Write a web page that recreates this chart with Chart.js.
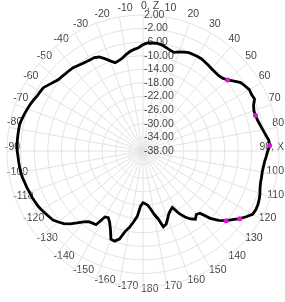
<!DOCTYPE html>
<html><head><meta charset="utf-8">
<script src="https://cdn.jsdelivr.net/npm/chart.js@4.4.1/dist/chart.umd.min.js"></script>
<style>html,body{margin:0;padding:0;background:#fff;overflow:hidden}#c{display:block}</style>
</head><body>
<canvas id="c" width="285" height="302"></canvas>
<script>
// Angles (degrees, clockwise from the Z axis at top), every 2.5 degrees
const angles = [0,2.5,5,7.5,10,12.5,15,17.5,20,22.5,25,27.5,30,32.5,35,37.5,40,42.5,45,47.5,50,52.5,55,57.5,60,62.5,65,67.5,70,72.5,75,77.5,80,82.5,85,87.5,
  90,92.5,95,97.5,100,102.5,105,107.5,110,112.5,115,117.5,120,122.5,125,127.5,130,132.5,135,137.5,140,142.5,145,147.5,150,152.5,155,157.5,160,162.5,165,167.5,170,172.5,175,177.5,
  180,182.5,185,187.5,190,192.5,195,197.5,200,202.5,205,207.5,210,212.5,215,217.5,220,222.5,225,227.5,230,232.5,235,237.5,240,242.5,245,247.5,250,252.5,255,257.5,
  260,262.5,265,267.5,270,272.5,275,277.5,280,282.5,285,287.5,290,292.5,295,297.5,300,302.5,305,307.5,310,312.5,315,317.5,320,322.5,325,327.5,330,332.5,335,337.5,340,342.5,345,347.5,350,352.5,355,357.5];
// Angle axis labels (every 10 degrees)
const angleLabels = {0:'0, Z',10:'10',20:'20',30:'30',40:'40',50:'50',60:'60',70:'70',80:'80',90:'90, X',100:'100',110:'110',120:'120',130:'130',140:'140',150:'150',160:'160',170:'170',180:'180',
  190:'-170',200:'-160',210:'-150',220:'-140',230:'-130',240:'-120',250:'-110',260:'-100',270:'-90',280:'-80',290:'-70',300:'-60',310:'-50',320:'-40',330:'-30',340:'-20',350:'-10'};
// Gain pattern (dB), one value per angle above
const gain = [
  -6.7,-6.2,-6.1,-6.1,-6.3,-6.8,-7.3,-7.6,-7.0,-6.5,-6.1,-6.0,-5.9,-5.9,-6.1,-6.3,-6.5,-6.6,-6.6,-6.3,
  -5.5,-4.2,-2.9,-2.4,-1.9,-2.0,-1.8,-2.8,-3.3,-3.3,-3.1,-2.7,-2.2,-1.6,-0.9,-0.7,
  -1.3,-1.7,-2.1,-2.3,-2.4,-2.3,-2.2,-1.9,-1.4,-1.0,-0.7,-0.6,-0.8,-2.0,-3.3,-4.8,-6.1,-7.8,-10.0,-13.2,-13.6,-12.7,-13.6,-15.0,
  -16.8,-19.3,-18.8,-18.1,-16.8,-15.4,-14.9,-17.6,-19.1,-20.8,-22.0,-22.5,
  -22.8,-21.8,-18.7,-17.0,-15.2,-13.8,-11.2,-10.2,-10.4,-13.0,-14.8,-15.9,-15.6,-12.3,-12.1,-11.8,-10.8,-9.3,-7.7,-6.4,
  -5.5,-4.6,-4.3,-3.9,-3.5,-3.1,-2.9,-2.6,-2.5,-2.2,-2.0,-1.7,
  -1.5,-1.4,-1.3,-1.2,-1.0,-0.9,-0.9,-0.9,-0.9,-0.9,-1.2,-1.5,-1.8,-2.1,-2.5,-2.9,-3.1,-3.3,-4.1,-4.8,
  -5.4,-5.6,-5.8,-5.9,-6.0,-6.4,-6.7,-6.9,-7.0,-7.0,-7.5,-8.6,-9.8,-10.8,-10.5,-10.0,-9.2,-8.5,-8.0,-7.6];
// Highlighted samples (magenta markers)
const markerAngles = [50, 72.5, 87.5, 125, 130];
// Radial axis
const rMin = -38, rMax = 2, rStep = 2, rLabelStep = 4;

function hasFont(name) {
  const c = document.createElement('canvas').getContext('2d');
  const t = 'mmmmmmmmmmlli1-0.9XZ';
  c.font = '40px monospace'; const a = c.measureText(t).width;
  c.font = '40px "' + name + '", monospace'; const b = c.measureText(t).width;
  return Math.abs(a - b) > 0.5;
}
const NARROW = hasFont('Liberation Sans Narrow');
const FONT = NARROW ? '"Liberation Sans Narrow", "Liberation Sans", Arial, sans-serif' : '"Liberation Sans", Arial, sans-serif';
const FS = NARROW ? 12 : 10.5;
const TXT = '#444';
const GRID = '#e2e2e2';

const names = angles.map(a => angleLabels[a] || '');
const markerData = angles.map((a, i) => markerAngles.includes(a) ? gain[i] : null);

const mctx = document.createElement('canvas').getContext('2d');
mctx.font = FS + 'px ' + FONT;

const RL = Chart.RadialLinearScale.prototype;
// radial tick labels: left-aligned just right of the 0-degree spoke
const origDrawLabels = RL.drawLabels;
RL.drawLabels = function () {
  const ctx = this.ctx;
  ctx.save();
  ctx.translate(1, 0);
  ctx.textAlign = 'left';
  Object.defineProperty(ctx, 'textAlign', { configurable: true, get() { return 'left'; }, set(v) {} });
  try { origDrawLabels.call(this); } finally { delete ctx.textAlign; ctx.restore(); }
};
// angle labels: text starts at the label anchor on the outer ring (reference style)
const LDX = -2;
const origDrawGrid = RL.drawGrid;
RL.drawGrid = function () {
  const ctx = this.ctx, scale = this;
  const nativeFill = CanvasRenderingContext2D.prototype.fillText;
  ctx.save();
  ctx.textAlign = 'left';
  Object.defineProperty(ctx, 'textAlign', { configurable: true, get() { return 'left'; }, set(v) {} });
  Object.defineProperty(ctx, 'fillText', { configurable: true, writable: true,
    value: function (t, x, y, m) {
      const cc = Math.max(-1, Math.min(1, (scale.yCenter - (y - FS / 2)) / scale.drawingArea));
      const dy = -8.5 - 5 * cc;
      return m === undefined ? nativeFill.call(ctx, t, x + LDX, y + dy) : nativeFill.call(ctx, t, x + LDX, y + dy, m);
    } });
  try { origDrawGrid.call(this); } finally { delete ctx.fillText; delete ctx.textAlign; ctx.restore(); }
};
let FITTING = false;
const origFit = RL.fit;
RL.fit = function () { FITTING = true; try { origFit.call(this); } finally { FITTING = false; } };

const R = 136, EXTRA = 6;
function labelPad(ctx) {
  const i = ctx.index, lbl = names[i];
  if (!lbl) return -40;
  const th = angles[i] * Math.PI / 180;
  const s = Math.sin(th);
  const w = mctx.measureText(lbl).width;
  let a = R;
  if (s > 1e-6) a = Math.min(a, (143 - w) / s);   // keep right-hand labels inside the picture
  return a - R - EXTRA;
}

function tickLabel(v) {
  const r = Math.round(v);
  return (r - rMin) % rLabelStep === 0 ? r.toFixed(2) : '';
}

new Chart(document.getElementById('c'), {
  type: 'radar',
  data: {
    labels: names,
    datasets: [
      { data: markerData, borderColor: 'rgba(0,0,0,0)', borderWidth: 0, pointRadius: 2.5,
        pointBackgroundColor: '#e010e0', pointBorderColor: '#e010e0', fill: false },
      { data: gain, borderColor: '#000', borderWidth: 2.8, pointRadius: 0, fill: false, tension: 0 }
    ]
  },
  options: {
    responsive: false,
    animation: false,
    layout: { padding: { left: 1, right: -1, top: 0, bottom: 0 } },
    plugins: { legend: { display: false }, tooltip: { enabled: false } },
    scales: {
      r: {
        min: rMin, max: rMax,
        ticks: { stepSize: rStep, callback: tickLabel, showLabelBackdrop: false, backdropPadding: { x: 0, y: (12 - FS) / 2 },
                 color: TXT, font: { size: FS, family: FONT } },
        grid: { color: GRID, lineWidth: 1 },
        angleLines: { color: ctx => (angles[ctx.index] % 10 === 0 ? GRID : 'rgba(0,0,0,0)'),
                      lineWidth: ctx => (angles[ctx.index] % 10 === 0 ? 1 : 0) },
        pointLabels: { display: true, color: TXT, padding: labelPad,
                       font: () => (FITTING ? { size: 1, lineHeight: 1, family: FONT } : { size: FS, lineHeight: 1, family: FONT }) }
      }
    }
  }
});
</script>
</body></html>
